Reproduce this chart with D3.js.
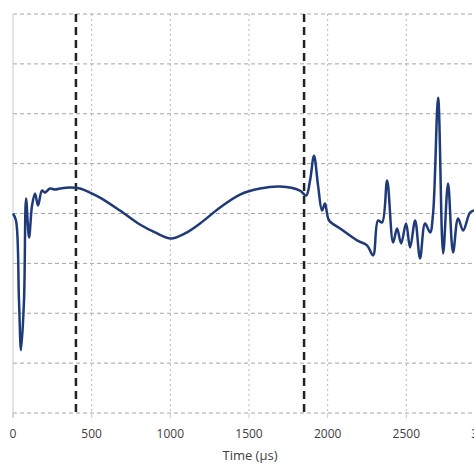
<!DOCTYPE html>
<html><head><meta charset="utf-8">
<script src="https://cdn.jsdelivr.net/npm/d3@7"></script>
<style>body{margin:0;background:#fff}</style></head>
<body><svg id="c" width="474" height="474"></svg>
<script>
const times=[0,19,38,51,70,83,102,121,140,159,184,203,235,267,299,362,426,489,553,680,807,903,1004,1093,1189,1316,1443,1570,1697,1824,1863,1888,1913,1939,1964,1983,2009,2079,2187,2250,2289,2320,2346,2378,2416,2441,2467,2498,2524,2556,2587,2619,2651,2670,2702,2734,2765,2797,2829,2861,2905,2931];
const values=[0,-0.14,-1.74,-2.74,-1.74,0.3,-0.48,0.16,0.4,0.16,0.46,0.42,0.5,0.48,0.5,0.52,0.5,0.42,0.32,0.06,-0.22,-0.38,-0.5,-0.4,-0.2,0.12,0.38,0.5,0.54,0.46,0.36,0.66,1.16,0.56,0.06,0.2,-0.14,-0.3,-0.54,-0.64,-0.84,-0.14,-0.18,0.66,-0.58,-0.3,-0.6,-0.2,-0.68,-0.14,-0.9,-0.2,-0.38,0,2.32,-0.8,0.6,-0.78,-0.1,-0.34,0.02,0.06];
const xTicks=[0,500,1000,1500,2000,2500,3000];
const yTicks=[-4,-3,-2,-1,0,1,2,3,4];
const markers=[400,1850];
const svg=d3.select("#c");
const x=d3.scaleLinear().domain([0,3000]).range([13,485]);
const y=d3.scaleLinear().domain([-4,4]).range([413,14]);
const g=svg.append("g");
g.selectAll(".h").data(yTicks).join("line").attr("x1",13).attr("x2",474).attr("y1",d=>y(d)).attr("y2",d=>y(d)).attr("stroke","#a6a6a6").attr("stroke-dasharray","4,3");
g.selectAll(".v").data(xTicks.slice(1)).join("line").attr("x1",d=>x(d)).attr("x2",d=>x(d)).attr("y1",14).attr("y2",413).attr("stroke","#b8b8b8").attr("stroke-dasharray","2,3");
g.append("line").attr("x1",13).attr("x2",13).attr("y1",14).attr("y2",418).attr("stroke","#c8c8c8");
g.selectAll(".tk").data(xTicks).join("line").attr("x1",d=>x(d)).attr("x2",d=>x(d)).attr("y1",413).attr("y2",418).attr("stroke","#c8c8c8");
g.selectAll(".m").data(markers).join("line").attr("x1",d=>x(d)).attr("x2",d=>x(d)).attr("y1",14).attr("y2",413).attr("stroke","#222").attr("stroke-width",2.5).attr("stroke-dasharray","8,5");
g.selectAll(".tl").data(xTicks).join("text").attr("x",d=>x(d)).attr("y",438).attr("text-anchor","middle").attr("font-family","Open Sans, sans-serif").attr("font-size",12).attr("fill","#404040").text(d=>d);
g.append("text").attr("x",250).attr("y",460).attr("text-anchor","middle").attr("font-family","Open Sans, sans-serif").attr("font-size",13).attr("fill","#404040").text("Time (µs)");
const line=d3.line().x((d,i)=>x(times[i])).y(d=>y(d)).curve(d3.curveCatmullRom.alpha(0.5));
g.append("path").datum(values).attr("d",line).attr("fill","none").attr("stroke","#1f3a78").attr("stroke-width",2.5);
</script></body></html>
